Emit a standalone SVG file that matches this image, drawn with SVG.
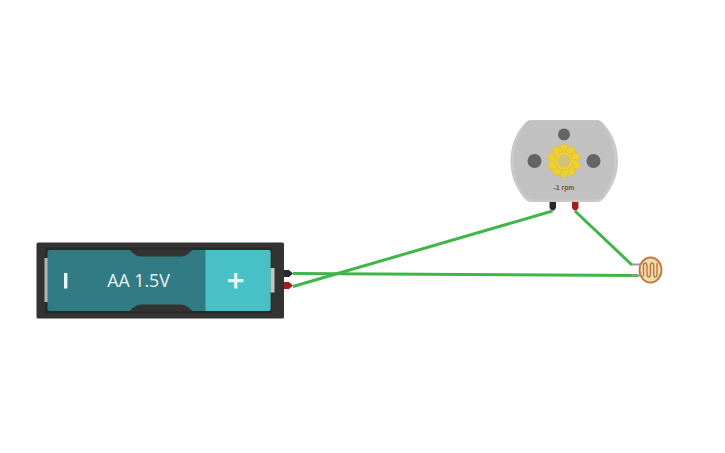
<svg xmlns="http://www.w3.org/2000/svg" width="725" height="453" viewBox="0 0 725 453">
<style>
.w{fill:none;stroke:#3fb54a;stroke-width:3;stroke-linecap:butt}
.lead{fill:none;stroke:#9a9a9a;stroke-width:2}
.hole{fill:#646464}
.t{font-family:"Open Sans","Noto Sans","Liberation Sans",sans-serif;fill:#e8f4f4}
</style>
<defs>
<polygon id="tooth" points="558.500,152 561.500,144.500 566.500,144.500 569.500,152"/>
</defs>
<rect width="725" height="453" fill="#fff"/>
<g id="battery">
<rect x="36.500" y="242.500" width="247.500" height="76" rx="1.500" fill="#333"/>
<rect x="45" y="247.500" width="227" height="66" fill="#2a2a2a"/>
<rect x="44.500" y="258" width="4" height="44" fill="#b5b5b5"/>
<rect x="269.500" y="268" width="5" height="24.500" fill="#c4c4c4"/>
<rect x="47.500" y="250" width="223" height="61" rx="2" fill="#317c84"/>
<path d="M205.500 250H268.500a2 2 0 0 1 2 2V309a2 2 0 0 1-2 2H205.500Z" fill="#47c1c6"/>
<path d="M129 249.500H193L188 254Q185 256.500 181 256.500H141Q137 256.500 134 254Z" fill="#333"/>
<path d="M129 311.500H193L188 307Q185 304.500 181 304.500H141Q137 304.500 134 307Z" fill="#333"/>
<rect x="64" y="273" width="3.400" height="15.500" fill="#e8f4f4"/>
<rect x="228" y="279" width="15.500" height="3.200" fill="#e8f4f4"/>
<rect x="234.200" y="273" width="3.200" height="15.500" fill="#e8f4f4"/>
<text class="t" x="138.500" y="286.500" font-size="17.800" text-anchor="middle">AA 1.5V</text>
<path d="M284 270H289L293 273.500L289 277H284Z" fill="#2a2a2a"/>
<path d="M284 282H289L293 285.500L289 289H284Z" fill="#a81c1c"/>
</g>
<g id="motor">
<path d="M531 120H597Q601 120 604 124C613 134 618 147 618 161C618 175 613 186 605 197Q601 202 597 202H531Q527 202 523 197C515 186 510.500 175 510.500 161C510.500 147 515 134 524 124Q527 120 531 120Z" fill="#c9c9c9"/>
<path d="M531 120.500H597Q600 120.500 602 124C610 134 614 147 614 161C614 175 610 186 603 195Q599 199.500 596 199.500H532Q529 199.500 525 195C518 186 514 175 514 161C514 147 518 134 526 124Q528 120.500 531 120.500Z" fill="#c1c1c1"/>
<circle class="hole" cx="564" cy="134.500" r="6"/>
<circle class="hole" cx="534.500" cy="161" r="7"/>
<circle class="hole" cx="593.500" cy="161" r="7"/>
<g id="gear" fill="#edd033" stroke="#e0bd2c" stroke-width="0.600" stroke-linejoin="round">
<circle cx="564" cy="161" r="12.500"/>
<use href="#tooth"/>
<use href="#tooth" transform="rotate(36 564 161)"/>
<use href="#tooth" transform="rotate(72 564 161)"/>
<use href="#tooth" transform="rotate(108 564 161)"/>
<use href="#tooth" transform="rotate(144 564 161)"/>
<use href="#tooth" transform="rotate(180 564 161)"/>
<use href="#tooth" transform="rotate(216 564 161)"/>
<use href="#tooth" transform="rotate(252 564 161)"/>
<use href="#tooth" transform="rotate(288 564 161)"/>
<use href="#tooth" transform="rotate(324 564 161)"/>
</g>
<circle cx="564" cy="161" r="6.500" fill="#d2c076"/>
<text x="564" y="190" font-family="'Liberation Sans',Arial,sans-serif" font-size="6.800" font-weight="700" fill="#5a5a5a" text-anchor="middle">-1 rpm</text>
<path d="M549.500 202H556V208L554 210.500H551.500L549.500 208Z" fill="#2a2a2a"/>
<path d="M572 202H578.500V208L576.500 210.500H574L572 208Z" fill="#a81c1c"/>
</g>
<g id="ldr">
<ellipse cx="650.500" cy="270" rx="11" ry="12.500" fill="#e6dfaf" stroke="#c8743c" stroke-width="1.800"/>
<path d="M643.500 276.500V266Q643.500 263 645.200 263T647 266V274Q647 277 648.700 277T650.400 274V266Q650.400 263 652 263T653.700 266V274Q653.700 277 655.400 277T657 274V263" fill="none" stroke="#c8743c" stroke-width="1.400"/>
</g>
<g id="connectors">
<path class="w" d="M293 273.500L638 275.500"/>
<path class="w" d="M293 286.500L552.500 211"/>
<path class="w" d="M575 211L632 265"/>
<path class="lead" d="M632 264.500H641M632 275.500H641"/>
</g>
</svg>
